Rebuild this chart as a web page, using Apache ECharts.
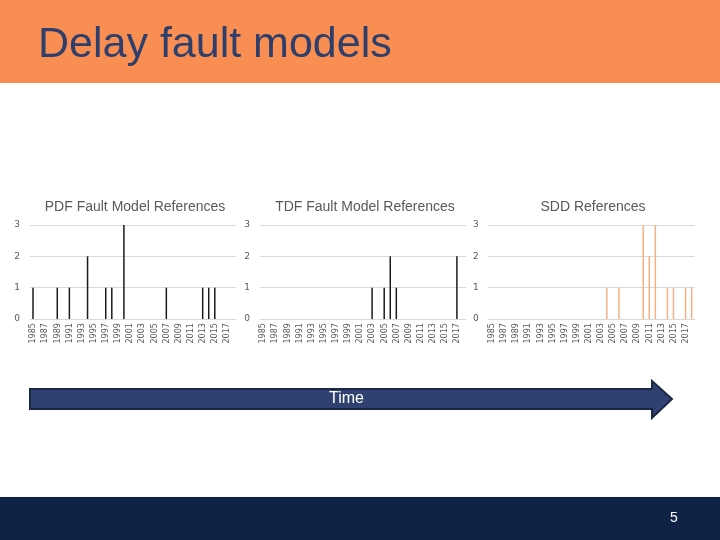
<!DOCTYPE html>
<html><head><meta charset="utf-8">
<script src="https://cdn.jsdelivr.net/npm/echarts@6/dist/echarts.min.js"></script>
<style>html,body{margin:0;padding:0;background:#fff}#c{width:720px;height:540px}</style>
</head><body><div id="c"></div>
<script>
const years = [];
for (let y = 1985; y <= 2018; y++) years.push(String(y));
const pdfRefs = {1985:1,1989:1,1991:1,1994:2,1997:1,1998:1,2000:3,2007:1,2013:1,2014:1,2015:1};
const tdfRefs = {2003:1,2005:1,2006:2,2007:1,2017:2};
const sddRefs = {2004:1,2006:1,2010:3,2011:2,2012:3,2014:1,2015:1,2017:1,2018:1};
const titles = ['PDF Fault Model References','TDF Fault Model References','SDD References'];
const yTicks = [0,1,2,3];
const toSeries = m => years.map(y => m[y] || 0);
const datasets = [toSeries(pdfRefs), toSeries(tdfRefs), toSeries(sddRefs)];
const colors = ['#1a1a1a','#1a1a1a','#f4b183'];
const lefts = [30, 260, 488.7];
const titleX = [130, 360, 588];
const chart = echarts.init(document.getElementById('c'));
const grid=[],xAxis=[],yAxis=[],series=[],title=[];
for (let i=0;i<3;i++){
  grid.push({left:lefts[i],top:225,width:206,height:94});
  xAxis.push({type:'category',gridIndex:i,data:years,
    axisLine:{lineStyle:{color:'#d9d9d9'}},axisTick:{show:false},
    axisLabel:{rotate:90,interval:1,fontSize:9,color:'#595959',fontFamily:'DejaVu Sans Condensed',margin:4}});
  yAxis.push({type:'value',gridIndex:i,min:yTicks[0],max:yTicks[3],interval:1,
    axisLine:{show:false},axisTick:{show:false},
    splitLine:{lineStyle:{color:'#d9d9d9'}},
    axisLabel:{fontSize:9,color:'#595959',margin:10,fontFamily:'DejaVu Sans'}});
  series.push({type:'bar',xAxisIndex:i,yAxisIndex:i,data:datasets[i],barWidth:1.5,
    itemStyle:{color:colors[i]},silent:true});
  title.push({text:titles[i],left:titleX[i],top:195,textAlign:'center',
    textStyle:{fontSize:14,fontWeight:'normal',color:'#595959',fontFamily:'Liberation Sans'}});
}
chart.setOption({
  animation:false,
  title, grid, xAxis, yAxis, series,
  graphic:[
    {type:'rect',shape:{x:0,y:0,width:720,height:83},style:{fill:'#f98e52'},z:-1},
    {type:'text',left:38,top:24,style:{text:'Delay fault models',fontSize:43,fill:'#2e3f6b',fontFamily:'Liberation Sans'}},
    {type:'rect',shape:{x:0,y:497,width:720,height:43},style:{fill:'#0e2345'}},
    {type:'text',left:670,top:511,style:{text:'5',fontSize:14,fill:'#ffffff',fontFamily:'Liberation Sans'}},
    {type:'polygon',shape:{points:[[30,389],[652,389],[652,381],[672,399],[652,418],[652,409],[30,409]]},
      style:{fill:'#2e4170',stroke:'#1b2744',lineWidth:2}},
    {type:'text',left:329,top:391,style:{text:'Time',fontSize:16,fill:'#ffffff',fontFamily:'Liberation Sans'}}
  ]
});
</script></body></html>
